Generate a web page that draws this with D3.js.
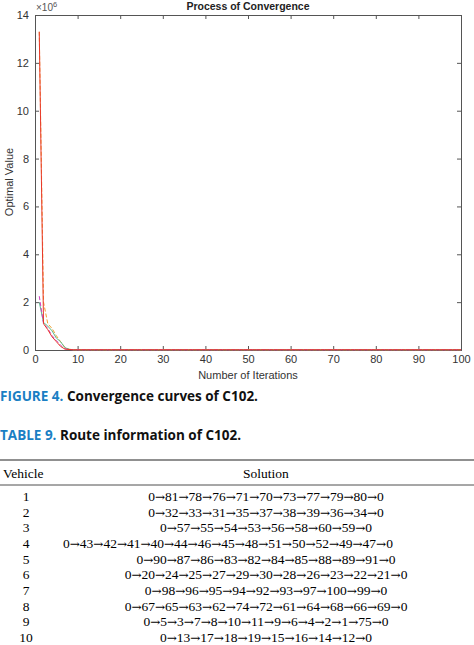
<!DOCTYPE html><html><head><meta charset="utf-8">
<script src="https://cdn.jsdelivr.net/npm/d3@7"></script>
<style>body{margin:0;background:#fff}</style></head><body>
<script>
const iterations = d3.range(1, 101);
const redVals = [13.3,1.1,0.85,0.55,0.35,0.15,0.04,0.02,0.01,0.01];
const orangeVals = [13.3,2.0,1.1,0.9,0.6,0.35,0.12,0.03,0.01,0.01];
const magentaVals = [2.25,1.1,0.9,0.6,0.4,0.2,0.05,0.02,0.01,0.01];
const greenVals = [2.0,1.15,1.0,0.8,0.5,0.35,0.1,0.03,0.01,0.01];
const xTicks = [0,10,20,30,40,50,60,70,80,90,100];
const yTicks = [0,2,4,6,8,10,12,14];
const vehicles = ["1","2","3","4","5","6","7","8","9","10"];
const solutions = [
"0→81→78→76→71→70→73→77→79→80→0",
"0→32→33→31→35→37→38→39→36→34→0",
"0→57→55→54→53→56→58→60→59→0",
"0→43→42→41→40→44→46→45→48→51→50→52→49→47→0",
"0→90→87→86→83→82→84→85→88→89→91→0",
"0→20→24→25→27→29→30→28→26→23→22→21→0",
"0→98→96→95→94→92→93→97→100→99→0",
"0→67→65→63→62→74→72→61→64→68→66→69→0",
"0→5→3→7→8→10→11→9→6→4→2→1→75→0",
"0→13→17→18→19→15→16→14→12→0"];
function full(v){return iterations.map((it,i)=>[it, i<v.length?v[i]:0.01]);}
const series=[
 {d:full(orangeVals),c:"#f0a030",dash:"4,2"},
 {d:full(greenVals),c:"#5cb88a",dash:null},
 {d:full(magentaVals),c:"#d040c0",dash:"4,2"},
 {d:full(redVals),c:"#e8382a",dash:null}];
const svg=d3.select("body").append("svg").attr("width",474).attr("height",645);
const x=d3.scaleLinear().domain([0,100]).range([35,461]);
const y=d3.scaleLinear().domain([0,14]).range([350,15]);
const sans="Liberation Sans, Arial";
const xa=svg.append("g").attr("transform","translate(0,350)").call(d3.axisBottom(x).tickValues(xTicks).tickSize(-4).tickPadding(5));
const ya=svg.append("g").attr("transform","translate(35,0)").call(d3.axisLeft(y).tickValues(yTicks).tickSize(-4).tickPadding(6));
[xa,ya].forEach(a=>{a.selectAll("path,line").attr("stroke","#555");a.selectAll("text").attr("font-family",sans).attr("font-size",11).attr("fill","#333");});
svg.append("g").attr("transform","translate(0,15)").call(d3.axisTop(x).tickValues(xTicks).tickSize(-4).tickFormat("")).selectAll("path,line").attr("stroke","#555");
svg.append("g").attr("transform","translate(461,0)").call(d3.axisRight(y).tickValues(yTicks).tickSize(-4).tickFormat("")).selectAll("path,line").attr("stroke","#555");
const line=d3.line().x(d=>x(d[0])).y(d=>y(d[1]));
series.forEach(s=>svg.append("path").attr("d",line(s.d)).attr("fill","none").attr("stroke",s.c).attr("stroke-width",1).attr("stroke-dasharray",s.dash));
const t=svg.append("text").attr("x",36).attr("y",11).attr("font-family",sans).attr("font-size",10).attr("fill","#555");
t.append("tspan").text("×10");t.append("tspan").attr("dy",-4).attr("font-size",7.5).text("6");
svg.append("text").attr("x",248).attr("y",10).attr("text-anchor","middle").attr("font-family",sans).attr("font-weight","bold").attr("font-size",10.5).attr("fill","#222").text("Process of Convergence");
svg.append("text").attr("x",248).attr("y",379).attr("text-anchor","middle").attr("font-family",sans).attr("font-size",11).attr("fill","#333").text("Number of Iterations");
svg.append("text").attr("transform","translate(13,182) rotate(-90)").attr("text-anchor","middle").attr("font-family",sans).attr("font-size",11).attr("fill","#333").text("Optimal Value");
function cap(yp,a,b){const c=svg.append("text").attr("x",0).attr("y",yp).attr("font-family","Open Sans, Noto Sans").attr("font-weight","bold").attr("font-size",13.5);
 c.append("tspan").attr("fill","#1a7fc4").text(a);c.append("tspan").attr("fill","#111").text(b);}
cap(401,"FIGURE 4.","  Convergence curves of C102.");
cap(440,"TABLE 9.","  Route information of C102.");
svg.append("line").attr("x1",0).attr("x2",474).attr("y1",460).attr("y2",460).attr("stroke","#222").attr("stroke-width",1.2);
svg.append("line").attr("x1",0).attr("x2",474).attr("y1",485).attr("y2",485).attr("stroke","#222").attr("stroke-width",0.8);
const serif="Liberation Serif, Times New Roman, serif";
svg.append("text").attr("x",3).attr("y",478).attr("font-family",serif).attr("font-size",13.5).text("Vehicle");
svg.append("text").attr("x",266).attr("y",478).attr("text-anchor","middle").attr("font-family",serif).attr("font-size",13.5).text("Solution");
const ry=d3.scaleLinear().domain([0,9]).range([501,642]);
vehicles.forEach((v,i)=>{
 svg.append("text").attr("x",26).attr("y",ry(i)).attr("text-anchor","middle").attr("font-family",serif).attr("font-size",13.5).text(v);
 const tx=svg.append("text").attr("x",i==3?63:266).attr("y",ry(i)).attr("text-anchor",i==3?"start":"middle").attr("font-family",serif).attr("font-size",13.5);
 solutions[i].split("→").forEach((p,k)=>{
   if(k>0) tx.append("tspan").attr("font-family","DejaVu Serif").attr("font-size",12).text("→");
   tx.append("tspan").text(p);
 });
});
</script></body></html>
